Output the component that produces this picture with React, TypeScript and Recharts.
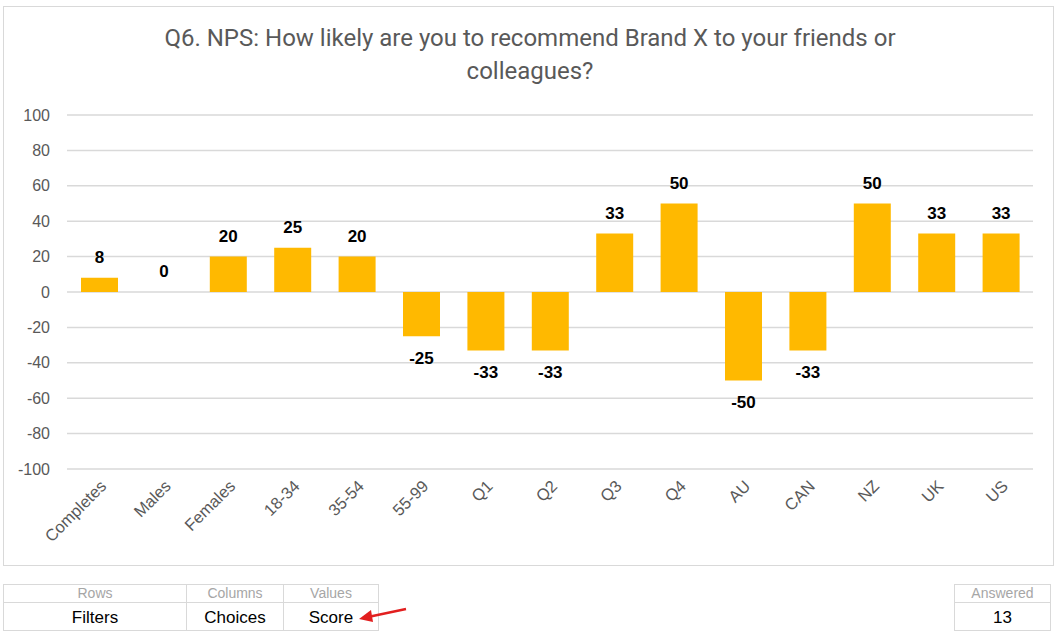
import React from 'react';
import { BarChart, Bar, XAxis, YAxis, CartesianGrid, LabelList } from 'recharts';

const categories = ['Completes', 'Males', 'Females', '18-34', '35-54', '55-99', 'Q1', 'Q2', 'Q3', 'Q4', 'AU', 'CAN', 'NZ', 'UK', 'US'];
const scores = [8, 0, 20, 25, 20, -25, -33, -33, 33, 50, -50, -33, 50, 33, 33];
const yTicks = [100, 80, 60, 40, 20, 0, -20, -40, -60, -80, -100];
const titleLines = ['Q6. NPS: How likely are you to recommend Brand X to your friends or', 'colleagues?'];

const data = categories.map((name, i) => ({ name, score: scores[i] }));

const AXIS_FONT = "'Liberation Sans', Arial, sans-serif";
const TITLE_FONT = "'Liberation Sans Narrow', 'Roboto', sans-serif";

// value label above positive bars, below negative ones
const ValueLabel = (props: any) => {
  const { x, y, width, height, value } = props;
  const top = Math.min(y, y + height);
  const bottom = Math.max(y, y + height);
  const cy = value >= 0 ? top - 20 : bottom + 22;
  return (
    <text
      x={x + width / 2}
      y={cy}
      textAnchor="middle"
      dominantBaseline="central"
      fontFamily={AXIS_FONT}
      fontSize={17}
      fontWeight="bold"
      fill="#000"
    >
      {value}
    </text>
  );
};

const SlantTick = (props: any) => {
  const { x, y, payload } = props;
  return (
    <g transform={`translate(${x + 4},${y})`}>
      <text
        textAnchor="end"
        transform="rotate(-45)"
        dy={6}
        fontFamily={AXIS_FONT}
        fontSize={16.5}
        fill="#595959"
      >
        {payload.value}
      </text>
    </g>
  );
};

const cell: React.CSSProperties = {
  position: 'absolute',
  boxSizing: 'border-box',
  border: '1px solid #d9d9d9',
  textAlign: 'center',
  fontFamily: "'Liberation Sans', Arial, sans-serif",
};

export default function App() {
  return (
    <div style={{ position: 'absolute', left: 0, top: 0, width: 1057, height: 636, background: '#fff' }}>
      <div
        style={{
          position: 'absolute',
          left: 3,
          top: 6,
          width: 1051,
          height: 560,
          boxSizing: 'border-box',
          border: '1.5px solid #d9d9d9',
        }}
      />
      <div
        style={{
          position: 'absolute',
          left: 0,
          top: 22,
          width: 1060,
          textAlign: 'center',
          fontFamily: TITLE_FONT,
          fontSize: 24,
          lineHeight: '33px',
          color: '#595959',
        }}
      >
        {titleLines.map((line) => (
          <div key={line}>{line}</div>
        ))}
      </div>
      <div style={{ position: 'absolute', left: 0, top: 0 }}>
        <BarChart
          width={1057}
          height={570}
          data={data}
          margin={{ top: 115, right: 24, bottom: 21, left: 17 }}
          barSize={37}
        >
          <CartesianGrid vertical={false} stroke="#d9d9d9" strokeWidth={1.5} />
          <XAxis
            dataKey="name"
            axisLine={false}
            tickLine={false}
            interval={0}
            height={80}
            tick={<SlantTick />}
            tickMargin={8}
          />
          {/* second category axis, only carries the label bars */}
          <XAxis xAxisId="labels" dataKey="name" hide height={0} />
          <YAxis
            domain={[-100, 100]}
            ticks={yTicks}
            axisLine={false}
            tickLine={false}
            width={50}
            tickSize={0}
            tickMargin={17}
            interval={0}
            tick={{ fill: '#595959', fontSize: 16, fontFamily: AXIS_FONT }}
          />
          <Bar dataKey="score" fill="#FFB900" isAnimationActive={false} />
          <Bar
            dataKey="score"
            xAxisId="labels"
            fill="transparent"
            minPointSize={1}
            isAnimationActive={false}
          >
            <LabelList dataKey="score" content={<ValueLabel />} />
          </Bar>
        </BarChart>
      </div>

      {/* field well boxes */}
      <div style={{ ...cell, left: 3, top: 584, width: 184, height: 19, fontSize: 14, color: '#a6a6a6', lineHeight: '17px' }}>Rows</div>
      <div style={{ ...cell, left: 186, top: 584, width: 98, height: 19, fontSize: 14, color: '#a6a6a6', lineHeight: '17px' }}>Columns</div>
      <div style={{ ...cell, left: 283, top: 584, width: 96, height: 19, fontSize: 14, color: '#a6a6a6', lineHeight: '17px' }}>Values</div>
      <div style={{ ...cell, left: 3, top: 602, width: 184, height: 29, fontSize: 17, color: '#000', lineHeight: '29px' }}>Filters</div>
      <div style={{ ...cell, left: 186, top: 602, width: 98, height: 29, fontSize: 17, color: '#000', lineHeight: '29px' }}>Choices</div>
      <div style={{ ...cell, left: 283, top: 602, width: 96, height: 29, fontSize: 17, color: '#000', lineHeight: '29px' }}>Score</div>
      <div style={{ ...cell, left: 954, top: 584, width: 97, height: 19, fontSize: 14, color: '#a6a6a6', lineHeight: '17px' }}>Answered</div>
      <div style={{ ...cell, left: 954, top: 602, width: 97, height: 29, fontSize: 17, color: '#000', lineHeight: '29px' }}>13</div>

      <svg style={{ position: 'absolute', left: 0, top: 0 }} width={1057} height={636}>
        <line x1={406} y1={609} x2={368} y2={617} stroke="#e21f1f" strokeWidth={2.5} />
        <polygon points="359,619 371,610 373,622" fill="#e21f1f" />
      </svg>
    </div>
  );
}
